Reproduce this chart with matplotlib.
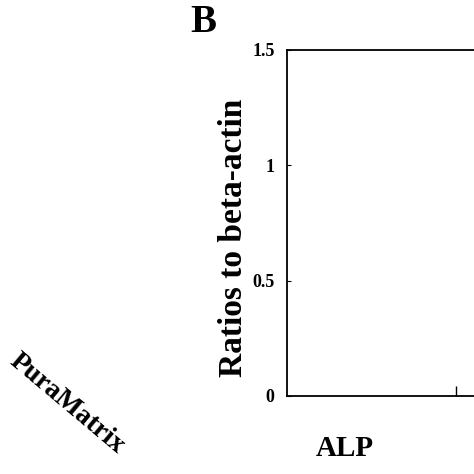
import matplotlib
matplotlib.use("Agg")
import matplotlib.pyplot as plt

plt.rcParams["font.family"] = ["Liberation Serif", "DejaVu Serif"]
plt.rcParams["font.weight"] = "bold"

categories = ["ALP"]
cat_pos = [0.0]
divider_pos = [0.5]
yticks = [0, 0.5, 1, 1.5]
ytick_labels = ["0", "0.5", "1", "1.5"]

fig = plt.figure(figsize=(4.74, 4.74), dpi=100)
ax = fig.add_axes([287 / 474, 1 - 396 / 474, 240 / 474, 346 / 474])
ax.set_xlim(-0.261, 0.82)
ax.set_ylim(0, 1.5)
ax.spines["right"].set_visible(False)
for s in ax.spines.values():
    s.set_linewidth(1.3)

ax.set_yticks(yticks)
ax.set_yticklabels(ytick_labels, fontsize=13, fontweight="bold")
ax.tick_params(axis="y", direction="in", length=3, pad=9)

ax.set_xticks(cat_pos)
ax.set_xticklabels(categories, fontsize=21, fontweight="bold")
ax.tick_params(axis="x", length=0, pad=28)
ax.set_xticks(divider_pos, minor=True)
ax.tick_params(axis="x", which="minor", direction="in", length=7, width=1)

ax.set_ylabel("Ratios to beta-actin", fontsize=24, fontweight="bold",
              va="center")
ax.yaxis.set_label_coords(-0.222, 0.457)

fig.text(203 / 474, 1 - 22 / 474, "B", fontsize=28, fontweight="bold",
         ha="center", va="center")
fig.text(67 / 474, 1 - 404 / 474, "PuraMatrix", fontsize=20, fontweight="bold",
         rotation=-40, ha="center", va="center")

fig.savefig("out.png", dpi=100, facecolor="white")
